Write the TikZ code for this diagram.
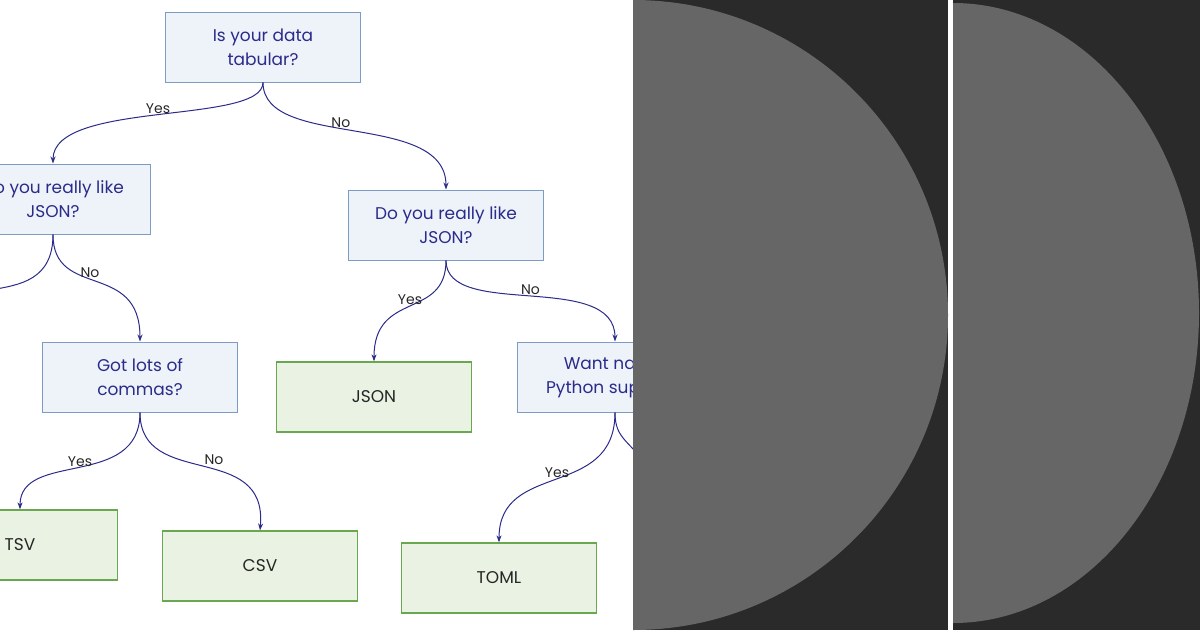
\documentclass[tikz,border=0pt]{standalone}
\usepackage{fontspec}
\setmainfont{Poppins}
\usetikzlibrary{patterns,arrows.meta}
\definecolor{ink}{HTML}{2B2B8A}
\definecolor{qline}{HTML}{7D9CC4}
\definecolor{qfill}{HTML}{EEF3FA}
\definecolor{lline}{HTML}{6AA84F}
\definecolor{lfill}{HTML}{E9F2E3}
\definecolor{dark}{HTML}{2A2A2A}
\definecolor{disk}{HTML}{666666}
\begin{document}
\begin{tikzpicture}[x=1pt,y=-1pt,
  q/.style={draw=qline,line width=1pt,fill=qfill,minimum width=195pt,minimum height=70pt,
    align=center,text=ink,font=\fontsize{17}{24}\selectfont,inner sep=0pt},
  leaf/.style={draw=lline,line width=1.3pt,fill=lfill,minimum width=195pt,minimum height=70pt,
    align=center,text=black!85,font=\fontsize{17}{24}\selectfont,inner sep=0pt},
  e/.style={draw=ink,line width=1pt,-{Stealth[length=7pt,width=5pt]}},
  lab/.style={font=\fontsize{14}{16}\selectfont,text=black!85,inner sep=1pt}]
\useasboundingbox (0,0) rectangle (1200,630);
\fill[white] (0,0) rectangle (633,630);
\begin{scope}
\clip (0,0) rectangle (633,630);
\node[q] (q1) at (263,47) {Is your data\\tabular?};
\node[q] (q2) at (53,199) {Do you really like\\JSON?};
\node[q] (q3) at (446,225) {Do you really like\\JSON?};
\node[q] (q4) at (140,377) {Got lots of\\commas?};
\node[q] (q5) at (615,377) {Want native\\Python support?};
\node[leaf] (json) at (374,397) {JSON};
\node[leaf] (tsv) at (20,545) {TSV};
\node[leaf] (csv) at (260,566) {CSV};
\node[leaf] (toml) at (499,578) {TOML};
\coordinate (offl) at (-10,290);
\coordinate (offr) at (650,470);
\draw[e] (q1.south) .. controls (263,125) and (53,100) .. (q2.north) node[lab,pos=0.5,above]{Yes};
\draw[e] (q1.south) .. controls (263,150) and (446,110) .. (q3.north) node[lab,pos=0.45,above]{No};
\draw[draw=ink,line width=1pt] (q2.south) .. controls (53,280) and (20,285) .. (offl);
\draw[e] (q2.south) .. controls (53,300) and (140,260) .. (q4.north) node[lab,pos=0.45,above]{No};
\draw[e] (q3.south) .. controls (446,320) and (374,290) .. (json.north) node[lab,pos=0.5,above]{Yes};
\draw[e] (q3.south) .. controls (446,320) and (615,270) .. (q5.north) node[lab,pos=0.5,above]{No};
\draw[e] (q4.south) .. controls (140,490) and (20,450) .. (tsv.north) node[lab,pos=0.5,above]{Yes};
\draw[e] (q4.south) .. controls (140,490) and (268,440) .. (csv.north) node[lab,pos=0.5,above right]{No};
\draw[e] (q5.south) .. controls (615,500) and (499,460) .. (toml.north) node[lab,pos=0.5,above]{Yes};
\draw[draw=ink,line width=1pt] (q5.south) .. controls (615,440) and (630,440) .. (offr);
\end{scope}
\fill[dark] (633,0) rectangle (948,630);
\fill[white] (948,0) rectangle (953,630);
\fill[dark] (953,0) rectangle (1200,630);
\begin{scope}
\clip (633,0) rectangle (948,630);
\fill[disk] (633,315) ellipse [x radius=315, y radius=315];
\end{scope}
\begin{scope}
\clip (953,0) rectangle (1200,630);
\fill[disk] (953,313) ellipse [x radius=246, y radius=310];
\end{scope}
\end{tikzpicture}
\end{document}
